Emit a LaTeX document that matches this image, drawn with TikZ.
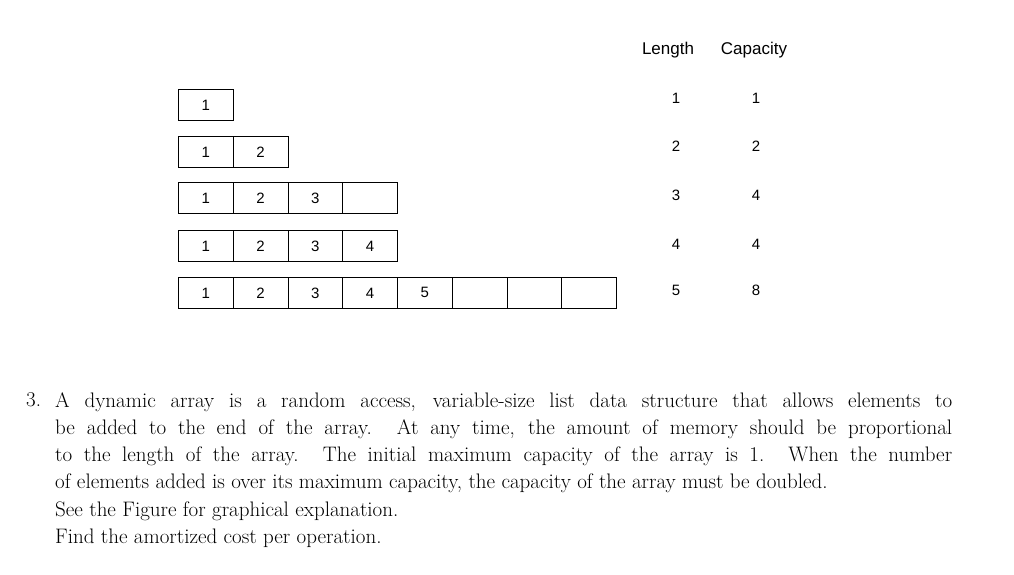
\documentclass[tikz,border=0pt]{standalone}
\usepackage{fontspec}
\newfontfamily\arialf{Liberation Sans}
\begin{document}
\begin{tikzpicture}[x=1pt,y=-1pt,
  cell/.style={draw,line width=0.8pt,minimum width=54.75pt,minimum height=31pt,inner sep=0pt,font=\arialf\fontsize{15}{17}\selectfont,anchor=north west},
  lab/.style={font=\arialf\fontsize{15}{17}\selectfont,inner sep=0pt},
  hd/.style={font=\arialf\fontsize{17}{19}\selectfont,inner sep=0pt}]
\useasboundingbox (0,0) rectangle (1014,575);
\foreach \r/\y/\n/\c in {1/89/1/1,2/136/2/2,3/182/3/4,4/230/4/4,5/277/5/8}{
  \foreach \i in {1,...,\c}{
    \pgfmathsetmacro\xx{178+54.75*(\i-1)}
    \ifnum\i>\n
      \node[cell] (c\r\i) at (\xx,\y) {};
    \else
      \node[cell] (c\r\i) at (\xx,\y) {\i};
    \fi
  }
}
\node[hd] (hl) at (668,50) {Length};
\node[hd] (hc) at (754,50) {Capacity};
\foreach \y/\l/\c [count=\k] in {98/1/1,146/2/2,195/3/4,244/4/4,290/5/8}{
  \node[lab] (l\k) at (676,\y) {\l};
  \node[lab] (k\k) at (756,\y) {\c};
}
\node[anchor=north west,inner sep=0pt,font=\fontsize{21}{27.3}\selectfont] (num) at (26,392) {3.};
\node[anchor=north west,inner sep=0pt,text width=897pt,align=justify,font=\fontsize{21}{27.3}\selectfont] (txt) at (55,392)
{A dynamic array is a random access, variable-size list data structure that allows elements to\linebreak be added to the end of the array. At any time, the amount of memory should be proportional\linebreak to the length of the array. The initial maximum capacity of the array is 1. When the number\linebreak of elements added is over its maximum capacity, the capacity of the array must be doubled.\\
See the Figure for graphical explanation.\\
Find the amortized cost per operation.};
\end{tikzpicture}
\end{document}
